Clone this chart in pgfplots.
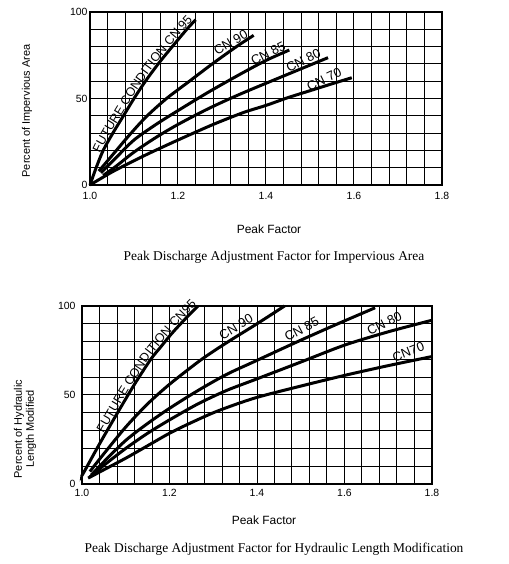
\documentclass[border=0pt]{standalone}
\usepackage{pgfplots}
\pgfplotsset{compat=1.18}
\usepackage{fontspec}
\setmainfont{Liberation Sans}
\newfontfamily\capfont{Liberation Serif}
\usetikzlibrary{decorations.text}
\tikzset{cnlab/.style={font=\fontsize{13}{13}\selectfont, inner sep=0pt}}
\begin{document}
\begin{tikzpicture}
\useasboundingbox (0bp,0bp) rectangle (509bp,564bp);
\pgfplotsset{
  chartbase/.style={
    scale only axis, clip=false,
    xmin=1, xmax=1.8, ymin=0, ymax=100,
    xtick={1,1.2,1.4,1.6,1.8}, xticklabels={1.0,1.2,1.4,1.6,1.8},
    ytick={0,50,100}, yticklabels={0,50,100},
    minor x tick num=4, minor y tick num=4,
    grid=both,
    grid style={black, line width=1bp},
    major grid style={black, line width=1bp},
    minor grid style={black, line width=1bp},
    tick style={draw=none},
    axis line style={line width=1.4bp},
    /pgf/number format/assume math mode=true,
    ticklabel style={font=\fontsize{10.5}{11}\selectfont},
  },
  curve/.style={black, line width=3bp, smooth, no markers},
}
% ---------------- top chart ----------------
\begin{axis}[chartbase, at={(90bp,379bp)}, anchor=south west, width=352bp, height=173bp,
  yticklabel style={xshift=1bp}, xticklabel style={yshift=-4bp}]
\addplot[curve, postaction={decorate, decoration={text along path, raise=1.8bp,
   text align={align=right, right indent=2bp},
   text={|\fontsize{12.5}{13}\selectfont|FUTURE CONDITION CN 95}}}]
  coordinates {(1.0,0) (1.014,10) (1.030,20) (1.052,30) (1.076,40) (1.100,50) (1.126,60) (1.155,70) (1.187,80) (1.220,90) (1.240,95.5)};
\addplot[curve] coordinates {(1.02,8) (1.05,17) (1.09,29) (1.128,39.5) (1.174,50) (1.226,60) (1.278,70) (1.333,80) (1.372,86.5)};
\addplot[curve] coordinates {(1.025,7) (1.06,16) (1.10,26) (1.15,35) (1.20,43) (1.268,53.5) (1.341,64) (1.40,72) (1.453,78)};
\addplot[curve] coordinates {(1.03,5.5) (1.06,11) (1.10,19) (1.15,27.5) (1.20,35) (1.268,44) (1.341,52.5) (1.44,63) (1.541,73.6)};
\addplot[curve] coordinates {(1.0,0) (1.05,7.5) (1.10,14) (1.136,18.5) (1.20,26) (1.28,35) (1.35,42) (1.40,46) (1.45,50.5) (1.50,54.5) (1.55,58.5) (1.595,62)};
\node[cnlab, rotate=30] at (axis cs:1.320,82.3) {CN 90};
\node[cnlab, rotate=27] at (axis cs:1.405,76.2) {CN 85};
\node[cnlab, rotate=27] at (axis cs:1.485,72.2) {CN 80};
\node[cnlab, rotate=26] at (axis cs:1.532,61.0) {CN 70};
\end{axis}
\node[rotate=90, font=\fontsize{11}{12}\selectfont] at (27bp,453bp) {Percent of Impervious Area};
\node[font=\fontsize{12}{13}\selectfont] at (269bp,335bp) {Peak Factor};
\node[font=\capfont\fontsize{13.5}{14}\selectfont] at (274bp,307bp) {Peak Discharge Adjustment Factor for Impervious Area};
% ---------------- bottom chart ----------------
\begin{axis}[chartbase, at={(82bp,80bp)}, anchor=south west, width=350bp, height=178bp,
  yticklabel style={xshift=-3bp}, xticklabel style={yshift=-2bp}]
\addplot[curve, postaction={decorate, decoration={text along path, raise=1.8bp,
   text align={align=right, right indent=0bp},
   text={|\fontsize{12.5}{13}\selectfont|FUTURE CONDITION CN95}}}]
  coordinates {(1.0,5) (1.004,6.5) (1.04,22.5) (1.08,39.5) (1.12,56) (1.157,70) (1.18,77) (1.205,84.5) (1.235,92.5) (1.265,100)};
\addplot[curve] coordinates {(1.018,7) (1.05,17) (1.10,32) (1.15,45) (1.20,56) (1.265,68.5) (1.30,74.5) (1.341,81) (1.40,90) (1.463,100)};
\addplot[curve] coordinates {(1.021,5) (1.05,12.5) (1.10,24.5) (1.15,34) (1.20,42.5) (1.265,52.5) (1.33,61.5) (1.395,68.9) (1.493,80) (1.58,89.5) (1.67,99)};
\addplot[curve] coordinates {(1.018,4) (1.05,10.5) (1.10,20) (1.15,28.5) (1.20,36) (1.265,45) (1.33,52.5) (1.395,58.6) (1.50,68.5) (1.60,78) (1.70,85.5) (1.80,92)};
\addplot[curve] coordinates {(1.014,3.3) (1.05,8) (1.10,14.5) (1.15,21.5) (1.20,28.5) (1.25,34.5) (1.31,41) (1.395,48.3) (1.50,55) (1.60,61) (1.70,66.5) (1.80,71.6)};
\node[cnlab, rotate=31] at (axis cs:1.352,88.3) {CN 90};
\node[cnlab, rotate=28] at (axis cs:1.502,87.0) {CN 85};
\node[cnlab, rotate=26] at (axis cs:1.691,90.4) {CN 80};
\node[cnlab, rotate=21] at (axis cs:1.746,74.2) {CN70};
\end{axis}
\node[rotate=90, font=\fontsize{11}{12}\selectfont, align=center] at (25bp,135bp) {Percent of Hydraulic\\Length Modified};
\node[font=\fontsize{12}{13}\selectfont] at (264bp,44bp) {Peak Factor};
\node[font=\capfont\fontsize{13.5}{14}\selectfont] at (274bp,15bp) {Peak Discharge Adjustment Factor for Hydraulic Length Modification};
\end{tikzpicture}
\end{document}
